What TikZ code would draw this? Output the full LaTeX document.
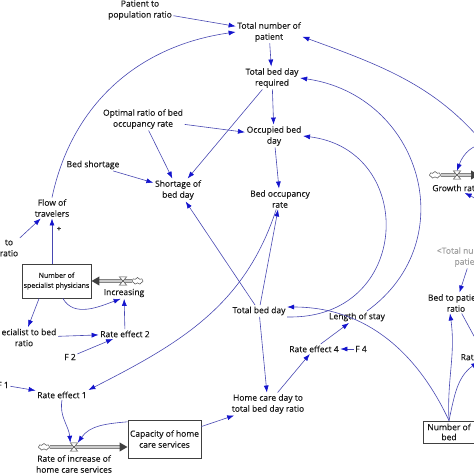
\documentclass[tikz,border=0pt]{standalone}
\usepackage{fontspec}
\setmainfont{Open Sans}[FakeBold=0.35]
\usepackage{tikz}
\usetikzlibrary{arrows.meta,shapes.symbols}
\definecolor{linkblue}{RGB}{72,72,178}
\definecolor{tipblue}{RGB}{20,20,205}

\begin{document}
\begin{tikzpicture}[
            x=1pt, y=1pt,
            every node/.append style={text=black!90, align=center, inner sep=1.5pt, font=\fontsize{8.5}{11}\selectfont},
            link/.style={draw=linkblue, line width=.6pt, -{Latex[length=7pt,width=5pt,color=tipblue]}},
            stockbox/.style={draw=black!75, line width=.8pt, fill=white},
            valve/.style={minimum width=7pt, minimum height=8pt, inner sep=0pt},
            valveline/.style={draw=black!70, fill=white, line width=.5pt},
            cloudy/.style={cloud, cloud puffs=7, aspect=1.5, draw=black!70, fill=white, line width=.5pt, minimum width=11pt, minimum height=7pt, inner sep=0pt},
            pipe/.style={draw=black!75, line width=3.4pt, -{Triangle[length=8pt,width=8.5pt]}},
            pipecore/.style={draw=gray!40, line width=1.8pt, shorten >=8pt},
            ghost/.style={text=gray!75}
        ]
            \useasboundingbox (0,0) rectangle (474,-474);
            \clip (0,0) rectangle (474,-474);

            \node (pop)  at (140,-10)  {Patient to\\population ratio};
            \node (tnp)  at (269,-32)  {Total number of\\patient};
            \node (tbdr) at (272,-78)  {Total bed day\\required};
            \node (opt)  at (143,-119) {Optimal ratio of bed\\occupancy rate};
            \node (obd)  at (274,-136) {Occupied bed\\day};
            \node (bsh)  at (93,-165)  {Bed shortage};
            \node (sbd)  at (178,-190) {Shortage of\\bed day};
            \node (bor)  at (280,-199) {Bed occupancy\\rate};
            \node (flow) at (52,-208)  {Flow of\\travelers};
            \node[font=\fontsize{7.5}{8}\selectfont] (plus) at (59,-229) {+};
            \node (tratio) at (9,-248) {to\\ratio};
            \node (spbed) at (24,-337.5) {\phantom{Sp}ecialist to bed\\ratio};
            \node (re2)  at (125,-334) {Rate effect 2};
            \node (f2)   at (70,-357)  {F 2};
            \node (f1)   at (3,-385)   {F 1};
            \node (re1)  at (62,-395)  {Rate effect 1};
            \node (tbd)  at (259,-311) {Total bed day};
            \node (los)  at (357,-317) {Length of stay};
            \node (re4)  at (314,-349) {Rate effect 4};
            \node (f4)   at (361,-349) {F 4};
            \node (hcr)  at (268,-404) {Home care day to\\total bed day ratio};
            \node[ghost] (tnp2) at (471,-257) {<Total nu\phantom{mber of}\\patie\phantom{nt>}};
            \node (btp)  at (456,-303) {Bed to patie\phantom{nt}\\ratio};
            \node[anchor=west] (re3) at (459,-357) {Rat\phantom{e effect 3}};

            \node[stockbox, minimum width=69pt, minimum height=34pt, font=\fontsize{7}{10}\selectfont] (phys) at (56.5,-281) {Number of\\specialist physicians};
            \node[stockbox, minimum width=73pt, minimum height=38pt] (cap) at (164.5,-439) {Capacity of home\\care services};
            \node[stockbox, minimum width=52pt, minimum height=22pt, font=\fontsize{8.5}{10}\selectfont] (nbed) at (449,-432) {Number of\\bed};

            \node[cloudy] (clinc) at (137.5,-281) {};
            \node[cloudy] (clhc) at (44,-447) {};
            \node[cloudy] (clgr) at (435,-175) {};
            \coordinate (npatw) at (479,-175);
            \coordinate (npat) at (500,-165);
            \coordinate (grsrc) at (492,-206);

            \draw[pipe] (clinc) -- (phys.east);
            \draw[pipecore] (clinc) -- (phys.east);
            \draw[pipe] (clhc) -- (clhc -| cap.west);
            \draw[pipecore] (clhc) -- (clhc -| cap.west);
            \draw[pipe] (clgr) -- (npatw);
            \draw[pipecore] (clgr) -- (npatw);

            \node[valve] (incv) at (123,-281) {};
            \node[valve] (hcv) at (74,-447) {};
            \node[valve] (grv) at (457,-175) {};
            \draw[valveline] (incv.north west) -- (incv.north east) -- (incv.south west) -- (incv.south east) -- cycle;
            \draw[valveline] (hcv.north west) -- (hcv.north east) -- (hcv.south west) -- (hcv.south east) -- cycle;
            \draw[valveline] (grv.north west) -- (grv.north east) -- (grv.south west) -- (grv.south east) -- cycle;
            \node (inc)  at (124,-293) {Increasing};
            \node (hclab) at (74,-464) {Rate of increase of\\home care services};
            \node (gr)   at (456,-188) {Growth rat\phantom{e}};

            \draw[link] (pop) -- (tnp);
            \draw[link] (flow.north) to[out=78, in=188] (tnp.west);
            \draw[link] (tnp) -- (tbdr);
            \draw[link] (tbdr) -- (obd);
            \draw[link] (tbdr) -- (sbd);
            \draw[link] (opt) -- (obd);
            \draw[link] (opt) -- (sbd);
            \draw[link] (bsh) -- (sbd);
            \draw[link] (obd) -- (bor);
            \draw[link] (tbd) -- (sbd);
            \draw[link] (tbd) -- (bor);
            \draw[link] (bor.250) to[out=-108, in=27] (re1.north east);
            \draw[link] (tbd) -- (hcr);
            \draw[link] (hcr) -- (re4);
            \draw[link] (f4) -- (re4);
            \draw[link] (re4) -- (los);
            \draw[link] ([xshift=10pt]los.north) .. controls (465,-240) and (420,-95) .. (tbdr.east);
            \draw[link] (tbd.south east) .. controls (412,-320) and (418,-150) .. (obd.east);
            \draw[link] (nbed.north) to[out=115, in=0] ([yshift=4pt]tbd.east);
            \draw[link] (nbed.north) to[out=93, in=-82] ([xshift=-6pt]btp.south);
            \draw[link] (nbed.north) to[out=78, in=215] (re3);
            \draw[link] (btp) -- (re3);
            \draw[link] (tnp2) -- (btp);
            \draw[link] (npat) to[out=125, in=-20] (tnp.-8);
            \draw[link] (npat) .. controls (500,-135) and (468,-140) .. (grv.north);
            \draw[link] (grsrc) to[out=170, in=-25] (gr.-30);

            \draw[link] (tratio) -- (flow);
            \draw[link] (flow |- phys.north) -- (flow);
            \draw[link] (phys.225) -- (spbed);
            \draw[link] (phys.-70) to[out=-60, in=200] (inc.240);
            \draw[link] (re2) -- (inc);
            \draw[link] (spbed) -- (re2);
            \draw[link] (f2) -- (re2);
            \draw[link] (f1) -- (re1);
            \draw[link] (re1.south) to[out=-100, in=95] (hcv.north west);
            \draw[link] (cap.155) to[out=185, in=55] (hcv.north east);
            \draw[link] (cap) -- (hcr);
        \end{tikzpicture}
\end{document}
